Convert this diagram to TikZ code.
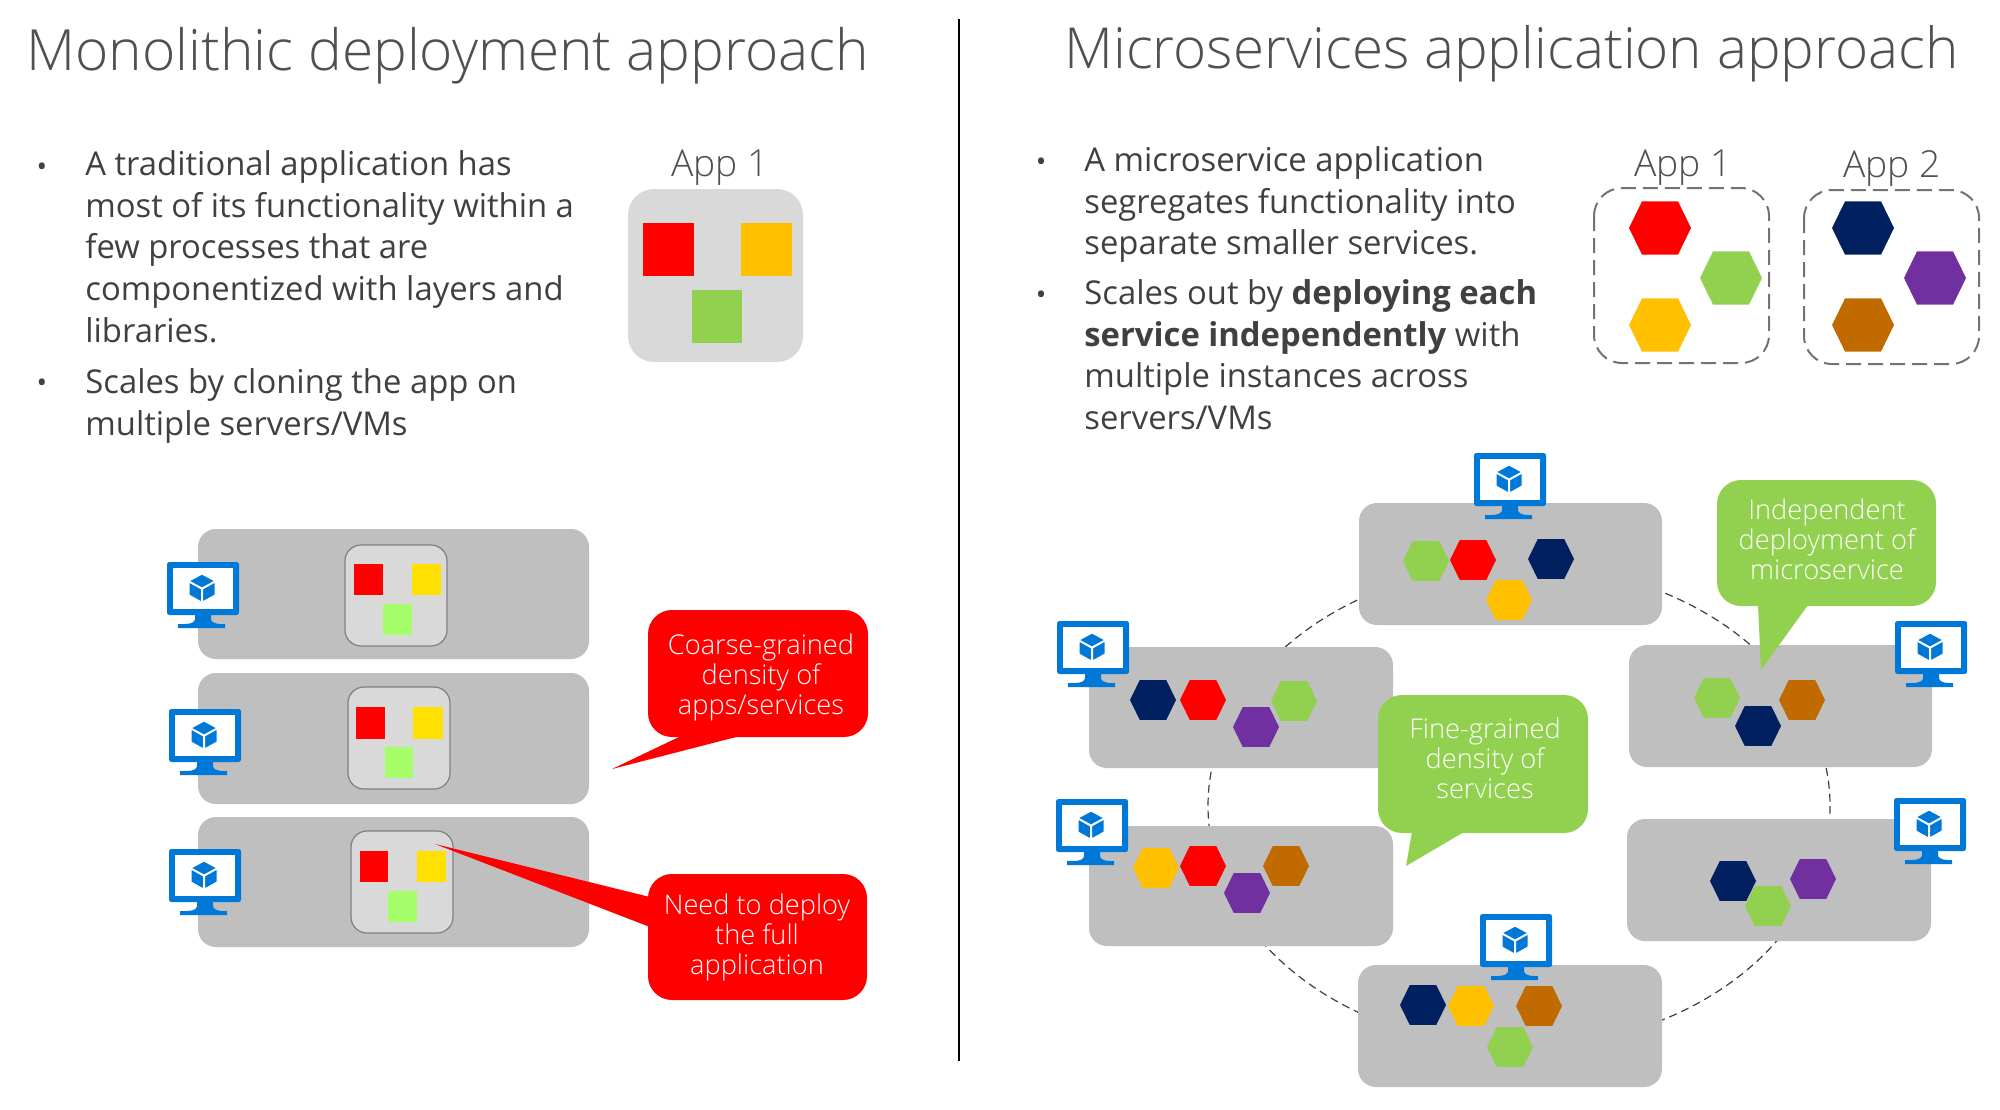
\documentclass[tikz,border=0pt]{standalone}
\usepackage{fontspec}
\setmainfont{Open Sans}
\newfontfamily\lightf{Open Sans Light}
\definecolor{txt}{HTML}{404040}
\definecolor{ttl}{HTML}{505050}
\definecolor{srv}{HTML}{BFBFBF}
\definecolor{appbg}{HTML}{D9D9D9}
\definecolor{azure}{HTML}{0078D7}
\definecolor{hred}{HTML}{FF0000}
\definecolor{hgreen}{HTML}{92D050}
\definecolor{hyellow}{HTML}{FFC000}
\definecolor{hnavy}{HTML}{002060}
\definecolor{hpurple}{HTML}{7030A0}
\definecolor{hbrown}{HTML}{C06A00}
\definecolor{syellow}{HTML}{FFE000}
\definecolor{sgreen}{HTML}{A6FF6A}
\tikzset{
  srvbox/.style={fill=srv,rounded corners=9pt},
  appsmall/.style={fill=appbg,draw=gray,line width=.6pt,rounded corners=8pt},
  dashbox/.style={draw=gray!90!black,line width=1pt,dash pattern=on 7.5pt off 3.5pt,rounded corners=14pt},
  bodytext/.style={anchor=north west,inner sep=0pt,align=left,text=txt,font=\fontsize{16.4}{20.9}\selectfont},
  bullet/.style={anchor=center,inner sep=0pt,text=txt,font=\fontsize{14}{14}\selectfont},
  titletext/.style={anchor=base west,inner sep=0pt,text=ttl,font=\lightf\fontsize{28.4}{32}\selectfont},
  titleright/.style={titletext,font=\lightf\fontsize{28.3}{32}\selectfont},
  applabel/.style={anchor=center,inner sep=0pt,text=ttl,font=\lightf\fontsize{18.6}{22}\selectfont},
  calltext/.style={anchor=center,inner sep=0pt,align=center,text=white,font=\lightf\fontsize{13.6}{15}\selectfont},
}
\newcommand{\hexa}[4][46]{%
  \pgfmathsetmacro{\hw}{#1/2}\pgfmathsetmacro{\hq}{#1*0.29}\pgfmathsetmacro{\hh}{#1*0.43}%
  \fill[#4] ({#2-\hw},{#3}) -- ({#2-\hq},{#3-\hh}) -- ({#2+\hq},{#3-\hh}) -- ({#2+\hw},{#3}) -- ({#2+\hq},{#3+\hh}) -- ({#2-\hq},{#3+\hh}) -- cycle;}
\newcommand{\vmicon}[2]{%
  \begin{scope}[shift={(#1,#2)}]
    \fill[azure,rounded corners=1.2pt] (0,0) rectangle (72,53);
    \fill[white] (6,6) rectangle (66,47);
    \fill[azure] (28,53) -- (44,53) -- (44,57) .. controls (44,60) and (48,62) .. (54,62) -- (58,62) -- (58,66) -- (11,66) -- (11,62) -- (18,62) .. controls (24,62) and (28,60) .. (28,57) -- cycle;
    \begin{scope}[draw=white,line width=.5pt,fill=azure]
      \filldraw (35,12) -- (48,19) -- (35,26) -- (22,19) -- cycle;
      \filldraw (22,20) -- (34.5,27) -- (34.5,40) -- (22,33) -- cycle;
      \filldraw (48,20) -- (35.5,27) -- (35.5,40) -- (48,33) -- cycle;
    \end{scope}
  \end{scope}}
\begin{document}
\begin{tikzpicture}[x=0.5pt,y=-0.5pt]
\useasboundingbox (0,0) rectangle (2000,1109);
\fill[white] (0,0) rectangle (2000,1109);
% divider
\draw[black,line width=1.1pt] (959,19) -- (959,1061);
% titles
\node[titletext] (t1) at (26,70.5) {Monolithic deployment approach};
\node[titleright] (t2) at (1064,68.5) {Microservices application approach};
% left text
\node[bullet] (b1) at (42,170) {•};
\node[bodytext] (l1) at (85,150) {A traditional application has\\most of its functionality within a\\few processes that are\\componentized with layers and\\libraries.};
\node[bullet] (b2) at (42,386) {•};
\node[bodytext] (l2) at (85,368) {Scales by cloning the app on\\multiple servers/VMs};
% left app
\node[applabel] (a0) at (720,168) {App 1};
\fill[appbg,rounded corners=13pt] (628,189) rectangle (803,362);
\fill[hred] (643,223) rectangle (694,276);
\fill[hyellow] (741,223) rectangle (792,276);
\fill[hgreen] (692,290) rectangle (742,343);
% left servers
\fill[srvbox] (198,529) rectangle (589,659);
\fill[srvbox] (198,673) rectangle (589,804);
\fill[srvbox] (198,817) rectangle (589,947);
\filldraw[appsmall] (345,545) rectangle (447,646);
\filldraw[appsmall] (348,687) rectangle (450,789);
\filldraw[appsmall] (351,831) rectangle (453,933);
\fill[hred] (354,564) rectangle (383,595);
\fill[syellow] (412,564) rectangle (441,595);
\fill[sgreen] (383,604) rectangle (412,635);
\fill[hred] (356,707) rectangle (385,739);
\fill[syellow] (413,707) rectangle (443,739);
\fill[sgreen] (385,747) rectangle (413,778);
\fill[hred] (360,851) rectangle (388,882);
\fill[syellow] (417,851) rectangle (446,882);
\fill[sgreen] (388,891) rectangle (417,922);
\vmicon{167}{562}
\vmicon{169}{709}
\vmicon{169}{849}
% red callouts
\fill[hred,rounded corners=12pt] (648,610) rectangle (868,737);
\fill[hred] (612,769) -- (681,736) -- (740,736) -- cycle;
\node[calltext] (c1) at (761,677) {Coarse-grained\\density of\\apps/services};
\fill[hred,rounded corners=12pt] (648,874) rectangle (867,1000);
\fill[hred] (435,844) -- (650,897) -- (650,927) -- cycle;
\node[calltext] (c2) at (757,937) {Need to deploy\\the full\\application};
% right text
\node[bullet] (b3) at (1041,165) {•};
\node[bodytext] (r1) at (1084,146) {A microservice application\\segregates functionality into\\separate smaller services.};
\node[bullet] (b4) at (1041,298) {•};
\node[bodytext] (r2) at (1084,279) {Scales out by \textbf{deploying each}\\\textbf{service independently} with\\multiple instances across\\servers/VMs};
% right apps
\node[applabel] (a1) at (1683,168) {App 1};
\node[applabel] (a2) at (1892,168) {App 2};
\draw[dashbox] (1594,188) rectangle (1769,363);
\draw[dashbox] (1804,190) rectangle (1979,364);
\hexa[62]{1660}{228}{hred}
\hexa[62]{1731}{278}{hgreen}
\hexa[62]{1660}{325}{hyellow}
\hexa[62]{1863}{228}{hnavy}
\hexa[62]{1935}{278}{hpurple}
\hexa[62]{1863}{325}{hbrown}
% ring
\draw[black!75,line width=.6pt,dash pattern=on 4pt off 2.5pt] (1519,806) ellipse [x radius=311,y radius=241];
% right servers
\fill[srvbox] (1359,503) rectangle (1662,625);
\fill[srvbox] (1089,647) rectangle (1393,768);
\fill[srvbox] (1089,826) rectangle (1393,946);
\fill[srvbox] (1629,645) rectangle (1932,767);
\fill[srvbox] (1627,819) rectangle (1931,941);
\fill[srvbox] (1358,965) rectangle (1662,1087);
\hexa{1426}{561}{hgreen}
\hexa{1473}{560}{hred}
\hexa{1509}{600}{hyellow}
\hexa{1551}{559}{hnavy}
\hexa{1153}{700}{hnavy}
\hexa{1203}{700}{hred}
\hexa{1294}{701}{hgreen}
\hexa{1256}{727}{hpurple}
\hexa{1156}{868}{hyellow}
\hexa{1203}{866}{hred}
\hexa{1286}{866}{hbrown}
\hexa{1247}{893}{hpurple}
\hexa{1717}{698}{hgreen}
\hexa{1802}{700}{hbrown}
\hexa{1758}{726}{hnavy}
\hexa{1733}{881}{hnavy}
\hexa{1813}{879}{hpurple}
\hexa{1768}{906}{hgreen}
\hexa{1423}{1005}{hnavy}
\hexa{1471}{1006}{hyellow}
\hexa{1539}{1006}{hbrown}
\hexa{1510}{1047}{hgreen}
\vmicon{1474}{453}
\vmicon{1057}{621}
\vmicon{1056}{799}
\vmicon{1895}{621}
\vmicon{1894}{798}
\vmicon{1480}{914}
% green callouts
\fill[hgreen,rounded corners=12pt] (1717,480) rectangle (1936,606);
\fill[hgreen] (1761,670) -- (1758,605) -- (1808,605) -- cycle;
\node[calltext] (c3) at (1827,539) {Independent\\deployment of\\microservice};
\fill[hgreen,rounded corners=12pt] (1378,695) rectangle (1588,833);
\fill[hgreen] (1406,866) -- (1412,832) -- (1464,832) -- cycle;
\node[calltext] (c4) at (1485,758) {Fine-grained\\density of\\services};
\end{tikzpicture}
\end{document}
